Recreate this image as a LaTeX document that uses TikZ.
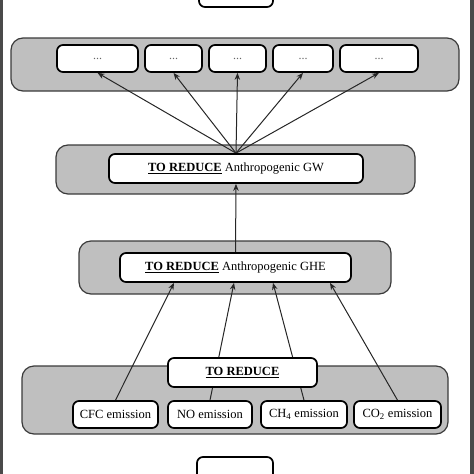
\documentclass[tikz,border=0pt]{standalone}
\usepackage{fontspec}
\setmainfont{Liberation Serif}
\usetikzlibrary{arrows.meta,calc}
\pgfdeclarelayer{bg}
\pgfdeclarelayer{mid}
\pgfsetlayers{bg,mid,main}
\definecolor{panelgray}{HTML}{BFBFBF}
\definecolor{paneledge}{HTML}{3A3A3A}
\definecolor{framegray}{HTML}{4A4A4A}
\begin{document}
\begin{tikzpicture}[x=1pt,y=-1pt,
  panel/.style={draw=paneledge, fill=panelgray, line width=1.2pt, rounded corners=12pt, inner sep=0pt},
  wbox/.style={draw=black, fill=white, line width=1.7pt, rounded corners=6pt, inner sep=0pt,
               minimum height=27pt, font=\fontsize{12.5}{14}\selectfont},
  dotbox/.style={wbox, font=\fontsize{12}{13}\selectfont\color{black!60}},
  conn/.style={draw=black!85, line width=1pt, -{Stealth[length=7pt,width=5.5pt]}}]
\useasboundingbox (0,0) rectangle (474,474);
\clip (0,0) rectangle (474,474);
% frame
\fill[framegray] (0,0) rectangle (3,474);
\fill[framegray] (470,0) rectangle (474,474);
% panels
\begin{pgfonlayer}{bg}
\node[panel, minimum width=448pt, minimum height=53pt] (p1) at (235,64.5) {};
\node[panel, minimum width=359pt, minimum height=49pt] (p2) at (235.5,169.5) {};
\node[panel, minimum width=312pt, minimum height=53pt] (p3) at (235,267.5) {};
\node[panel, minimum width=426pt, minimum height=68pt] (p4) at (235,400) {};
\end{pgfonlayer}
% top and bottom empty boxes
\node[wbox, minimum width=74pt, minimum height=19pt] (top) at (236,-2.5) {};
\node[wbox, minimum width=76pt, minimum height=28pt] (bot) at (235,471) {};
% top row
\node[dotbox, minimum width=81pt] (d1) at (97.5,58.5) {...};
\node[dotbox, minimum width=57pt] (d2) at (173.5,58.5) {...};
\node[dotbox, minimum width=57pt] (d3) at (237.5,58.5) {...};
\node[dotbox, minimum width=60pt] (d4) at (303,58.5) {...};
\node[dotbox, minimum width=78pt] (d5) at (379,58.5) {...};
% GW and GHE
\node[wbox, minimum width=254pt, minimum height=29pt] (gw) at (236,168.5)
  {\underline{\textbf{TO REDUCE}} Anthropogenic GW};
\node[wbox, minimum width=231pt, minimum height=29pt] (ghe) at (235.5,267.5)
  {\underline{\textbf{TO REDUCE}} Anthropogenic GHE};
% bottom
\node[wbox, minimum width=149pt, minimum height=29pt] (tr) at (242.5,372.5)
  {\underline{\textbf{TO REDUCE}}};
\node[wbox, minimum width=85pt] (cfc) at (115.5,414.5) {CFC emission};
\node[wbox, minimum width=84pt] (no) at (210,414.5) {NO emission};
\node[wbox, minimum width=86pt] (ch4) at (304,414.5) {CH\textsubscript{4} emission};
\node[wbox, minimum width=87pt] (co2) at (397.5,414.5) {CO\textsubscript{2} emission};
% connectors
\begin{pgfonlayer}{mid}
\foreach \t in {d1,d2,d3,d4,d5} \draw[conn] (gw.north) -- (\t.south);
\draw[conn] (ghe.north) -- (gw.south);
\draw[conn] (cfc.north) -- ([xshift=-61.5pt]ghe.south);
\draw[conn] (no.north) -- ([xshift=-1.5pt]ghe.south);
\draw[conn] (ch4.north) -- ([xshift=37.5pt]ghe.south);
\draw[conn] (co2.north) -- ([xshift=94.5pt]ghe.south);
\end{pgfonlayer}
\end{tikzpicture}
\end{document}
